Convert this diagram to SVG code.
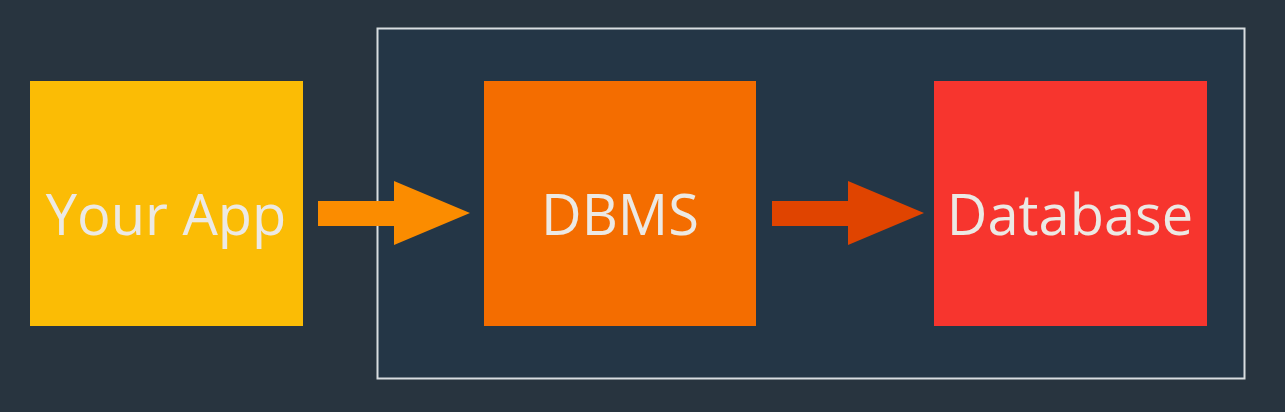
<svg xmlns="http://www.w3.org/2000/svg" width="1285" height="412" viewBox="0 0 1285 412">
<style>
.lbl{font-family:"Open Sans","Noto Sans",sans-serif;font-size:56px;fill:#ece9e4;text-anchor:middle;dominant-baseline:central}
</style>
<rect width="1285" height="412" fill="#28343f"/>
<g id="container"><rect x="377.5" y="28.5" width="867" height="350" fill="#243646" stroke="#d8dde0" stroke-width="2"/></g>
<g id="app"><rect x="30" y="81" width="273" height="245" fill="#fbbc05"/><text class="lbl" x="166" y="213">Your App</text></g>
<g id="dbms"><rect x="484" y="81" width="272" height="245" fill="#f46d00"/><text class="lbl" x="620" y="213">DBMS</text></g>
<g id="database"><rect x="934" y="81" width="273" height="245" fill="#f7352e"/><text class="lbl" x="1070" y="213">Database</text></g>
<g id="connectors">
<polygon points="318,201 394,201 394,181 470,213 394,245 394,226 318,226" fill="#fb8c00"/>
<polygon points="772,201 848,201 848,181 924,213 848,245 848,226 772,226" fill="#e04400"/>
</g>
</svg>
